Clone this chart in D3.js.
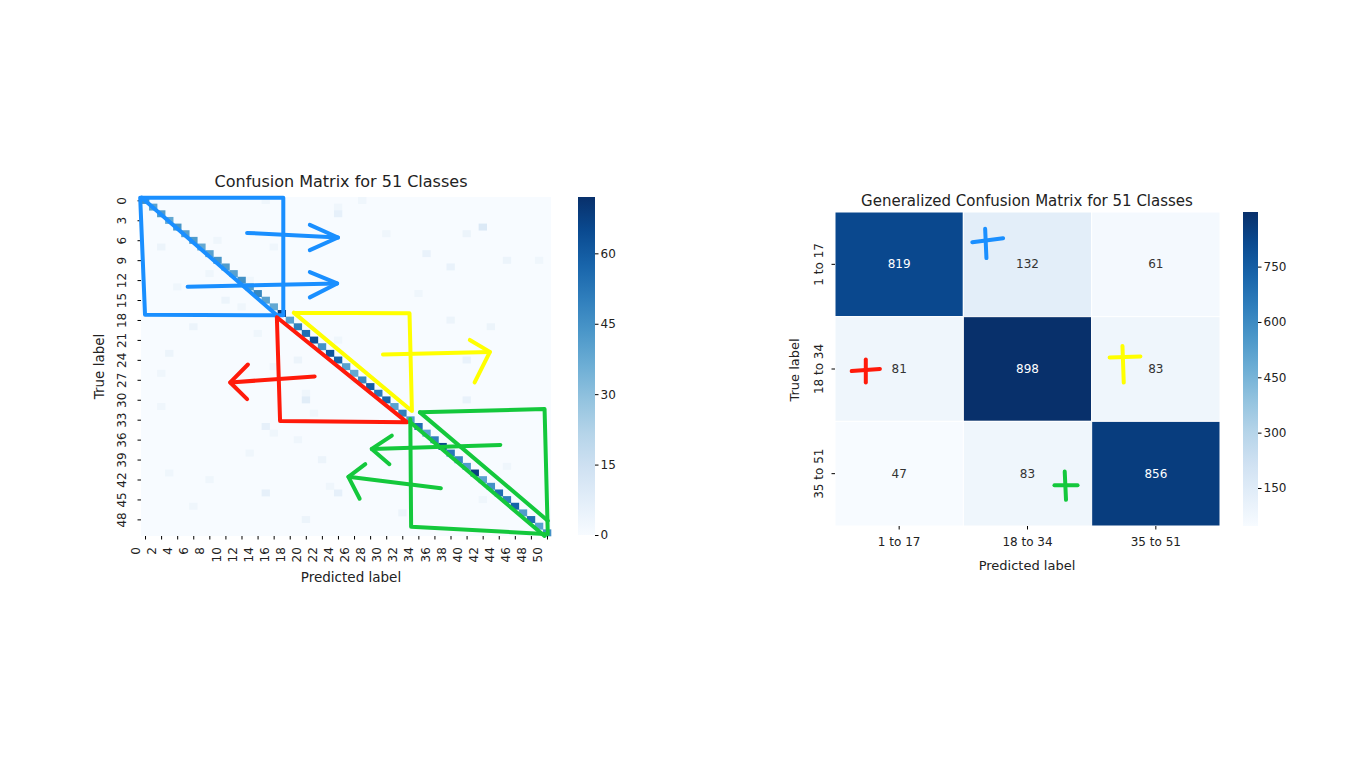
<!DOCTYPE html>
<html><head><meta charset="utf-8">
<script src="https://cdn.jsdelivr.net/npm/d3@7"></script>
<style>body{margin:0;background:#fff}text{font-family:"DejaVu Sans",sans-serif}</style>
</head><body>
<svg width="1366" height="768"></svg>
<script>
// 51-class matrix: diagonal counts and sparse off-diagonal counts [row, col, value]
const diagValues = [45,40,42,38,44,40,42,38,40,44,42,40,45,42,48,40,38,70,40,50,55,64,45,62,58,40,38,48,60,52,58,40,50,42,55,40,50,65,52,48,42,68,40,45,55,50,58,42,55,40,45];
const offDiag = [[0,27,3],[0,15,3],[1,24,3],[2,24,6],[4,42,10],[5,30,3],[5,40,4],[6,9,3],[7,2,4],[7,16,3],[8,35,5],[9,45,4],[9,49,3],[10,38,5],[11,8,3],[12,13,3],[13,4,3],[14,34,3],[15,10,4],[16,12,3],[18,38,4],[19,6,4],[19,43,4],[20,14,3],[21,24,3],[22,21,3],[23,3,4],[24,19,4],[24,40,5],[25,16,3],[26,2,3],[27,26,3],[28,11,3],[29,20,3],[30,20,8],[30,40,5],[31,2,3],[32,21,3],[34,15,6],[35,16,3],[36,19,3],[38,13,3],[39,22,4],[40,45,3],[41,3,3],[42,8,3],[43,23,3],[44,15,6],[44,24,6],[45,42,3],[46,6,3],[47,32,4],[48,20,4]];
const xTickLabels = d3.range(0, 51, 2);
const yTickLabels = d3.range(0, 51, 3);

// generalized 3x3 matrix
const groups = ["1 to 17", "18 to 34", "35 to 51"];
const genValues = [[819,132,61],[81,898,83],[47,83,856]];
const genTicks = [150,300,450,600,750];

// hand-drawn annotations, in cell units [col,row]
const leftMarks = [
  {c:"#1a8fff", pts:[[-0.1,0.1],[17.7,0.1],[17.7,17.8],[0.5,17.7],[-0.1,0.1]]},
  {c:"#1a8fff", pts:[[0.1,0.1],[16.9,17.8]]},
  {c:"#1a8fff", pts:[[13.2,5.4],[24.5,6.1]]},{c:"#1a8fff", pts:[[21.0,4.2],[24.5,6.1],[21.0,8.0]]},
  {c:"#1a8fff", pts:[[5.8,13.5],[24.4,13.0]]},{c:"#1a8fff", pts:[[21.0,11.3],[24.4,13.0],[21.0,15.1]]},
  {c:"#ffff00", pts:[[19.0,17.4],[33.4,17.5],[33.7,32.2],[19.0,17.4]]},
  {c:"#ffff00", pts:[[30.1,23.7],[43.4,23.3]]},{c:"#ffff00", pts:[[40.9,21.5],[43.4,23.3],[41.5,27.9]]},
  {c:"#ff1a0a", pts:[[16.9,18.1],[17.3,33.7],[33.1,33.9],[16.9,18.1]]},
  {c:"#ff1a0a", pts:[[21.6,27.0],[11.1,27.9]]},{c:"#ff1a0a", pts:[[13.3,25.2],[11.1,27.9],[13.2,30.4]]},
  {c:"#14c83c", pts:[[34.7,32.4],[50.2,31.9],[50.6,50.7]]},
  {c:"#14c83c", pts:[[33.5,33.4],[33.6,49.6],[50.2,50.7]]},
  {c:"#14c83c", pts:[[34.7,32.4],[50.6,48.7]]},{c:"#14c83c", pts:[[33.5,33.9],[50.2,51.0]]},
  {c:"#14c83c", pts:[[44.7,37.3],[28.7,37.9]]},{c:"#14c83c", pts:[[31.2,35.9],[28.7,37.9],[30.9,40.2]]},
  {c:"#14c83c", pts:[[37.3,43.8],[25.8,42.1]]},{c:"#14c83c", pts:[[27.9,40.2],[25.8,42.1],[27.2,45.4]]}
];
const rightMarks = [
  {c:"#1a8fff", pts:[[1.07,0.29],[1.31,0.25]]},{c:"#1a8fff", pts:[[1.17,0.16],[1.18,0.44]]},
  {c:"#ff1a0a", pts:[[0.13,1.52],[0.35,1.50]]},{c:"#ff1a0a", pts:[[0.24,1.41],[0.24,1.63]]},
  {c:"#ffff00", pts:[[2.14,1.39],[2.38,1.38]]},{c:"#ffff00", pts:[[2.24,1.28],[2.25,1.63]]},
  {c:"#14c83c", pts:[[1.71,2.61],[1.89,2.61]]},{c:"#14c83c", pts:[[1.79,2.48],[1.80,2.75]]}
];

const svg = d3.select("svg");
const lineGen = (xs, ys) => d3.line().x(p => xs(p[0])).y(p => ys(p[1]));

function colorbar(x0, y0, w, h, domain, ticks, id) {
  const color = d3.scaleSequential(d3.interpolateBlues).domain(domain);
  const grad = svg.append("defs").append("linearGradient").attr("id", id)
    .attr("x1", 0).attr("x2", 0).attr("y1", 1).attr("y2", 0);
  d3.range(0, 1.01, 0.1).forEach(t => grad.append("stop").attr("offset", t)
    .attr("stop-color", color(domain[0] + t * (domain[1] - domain[0]))));
  svg.append("rect").attr("x", x0).attr("y", y0).attr("width", w).attr("height", h).attr("fill", `url(#${id})`);
  const s = d3.scaleLinear().domain(domain).range([y0 + h, y0]);
  svg.append("g").attr("transform", `translate(${x0 + w},0)`)
    .call(d3.axisRight(s).tickValues(ticks).tickSize(3.5).tickPadding(2))
    .call(a => a.select(".domain").remove())
    .call(a => a.selectAll("text").attr("font-size", 12).attr("fill", "#222"));
}

// ---- left heatmap
{
  const n = 51, x0 = 141, y0 = 197, w = 410, h = 339;
  const x = d3.scaleLinear().domain([0, n]).range([x0, x0 + w]);
  const y = d3.scaleLinear().domain([0, n]).range([y0, y0 + h]);
  const color = d3.scaleSequential(d3.interpolateBlues).domain([0, 72]);
  svg.append("rect").attr("x", x0).attr("y", y0).attr("width", w).attr("height", h).attr("fill", color(0));
  const cells = offDiag.concat(diagValues.map((v, i) => [i, i, v]));
  svg.append("g").selectAll("rect").data(cells).join("rect")
    .attr("x", d => x(d[1])).attr("y", d => y(d[0]))
    .attr("width", x(1) - x(0) + 0.3).attr("height", y(1) - y(0) + 0.3)
    .attr("fill", d => color(d[2]));
  svg.append("g").attr("transform", `translate(0,${y0 + h})`)
    .call(d3.axisBottom(x).tickValues(xTickLabels.map(v => v + 0.5)).tickFormat(v => v - 0.5).tickSize(3.5))
    .call(a => a.select(".domain").remove())
    .call(a => a.selectAll("text").attr("font-size", 12).attr("fill", "#222")
      .attr("transform", "rotate(-90)").attr("text-anchor", "end").attr("dx", "-0.6em").attr("dy", "-0.45em").attr("y", 0).attr("x", -4));
  svg.append("g").attr("transform", `translate(${x0},0)`)
    .call(d3.axisLeft(y).tickValues(yTickLabels.map(v => v + 0.5)).tickFormat(v => v - 0.5).tickSize(3.5))
    .call(a => a.select(".domain").remove())
    .call(a => a.selectAll("text").attr("font-size", 12).attr("fill", "#222")
      .attr("transform", "rotate(-90)").attr("text-anchor", "middle").attr("x", 0).attr("y", 0).attr("dy", "-0.6em")
      .attr("transform", function () { return "translate(-8,0) rotate(-90)"; }));
  svg.append("g").selectAll("path").data(leftMarks).join("path")
    .attr("d", d => lineGen(x, y)(d.pts)).attr("fill", "none").attr("stroke", d => d.c)
    .attr("stroke-width", 4).attr("stroke-linecap", "round").attr("stroke-linejoin", "round");
  svg.append("text").attr("x", x0 + w / 2 - 5).attr("y", 187).attr("text-anchor", "middle").attr("font-size", 16).attr("fill", "#222").text("Confusion Matrix for 51 Classes");
  svg.append("text").attr("x", x0 + w / 2 + 5).attr("y", 582).attr("text-anchor", "middle").attr("font-size", 13.5).attr("fill", "#222").text("Predicted label");
  svg.append("text").attr("transform", `translate(104,${y0 + h / 2}) rotate(-90)`).attr("text-anchor", "middle").attr("font-size", 13.5).attr("fill", "#222").text("True label");
  colorbar(578, 197, 17, 338, [0, 72], [0, 15, 30, 45, 60], "cb1");
}

// ---- right heatmap
{
  const x0 = 835, y0 = 212, w = 385, h = 314;
  const x = d3.scaleBand().domain(groups).range([x0, x0 + w]);
  const y = d3.scaleBand().domain(groups).range([y0, y0 + h]);
  const xs = d3.scaleLinear().domain([0, 3]).range([x0, x0 + w]);
  const ys = d3.scaleLinear().domain([0, 3]).range([y0, y0 + h]);
  const color = d3.scaleSequential(d3.interpolateBlues).domain([47, 898]);
  const cells = [];
  genValues.forEach((r, i) => r.forEach((v, j) => cells.push({r: groups[i], c: groups[j], v})));
  svg.append("g").selectAll("rect").data(cells).join("rect")
    .attr("x", d => x(d.c)).attr("y", d => y(d.r)).attr("width", x.bandwidth()).attr("height", y.bandwidth())
    .attr("fill", d => color(d.v)).attr("stroke", "#fff").attr("stroke-width", 1);
  svg.append("g").selectAll("text").data(cells).join("text")
    .attr("x", d => x(d.c) + x.bandwidth() / 2).attr("y", d => y(d.r) + y.bandwidth() / 2 + 4)
    .attr("text-anchor", "middle").attr("font-size", 12)
    .attr("fill", d => d.v > 450 ? "#fff" : "#333").text(d => d.v);
  svg.append("g").attr("transform", `translate(0,${y0 + h})`)
    .call(d3.axisBottom(x).tickSize(3.5).tickPadding(8))
    .call(a => a.select(".domain").remove())
    .call(a => a.selectAll("text").attr("font-size", 12).attr("fill", "#222"));
  svg.append("g").attr("transform", `translate(${x0},0)`)
    .call(d3.axisLeft(y).tickSize(3.5))
    .call(a => a.select(".domain").remove())
    .call(a => a.selectAll("text").attr("font-size", 12).attr("fill", "#222")
      .attr("text-anchor", "middle").attr("x", 0).attr("dy", 0).attr("transform", "translate(-12,0) rotate(-90)"));
  svg.append("g").selectAll("path").data(rightMarks).join("path")
    .attr("d", d => lineGen(xs, ys)(d.pts)).attr("fill", "none").attr("stroke", d => d.c)
    .attr("stroke-width", 4).attr("stroke-linecap", "round");
  svg.append("text").attr("x", 1027).attr("y", 206).attr("text-anchor", "middle").attr("font-size", 15).attr("fill", "#222").text("Generalized Confusion Matrix for 51 Classes");
  svg.append("text").attr("x", 1027).attr("y", 570).attr("text-anchor", "middle").attr("font-size", 13).attr("fill", "#222").text("Predicted label");
  svg.append("text").attr("transform", `translate(799,370) rotate(-90)`).attr("text-anchor", "middle").attr("font-size", 13).attr("fill", "#222").text("True label");
  colorbar(1243, 212, 15, 314, [47, 898], genTicks, "cb2");
}
</script>
</body></html>
